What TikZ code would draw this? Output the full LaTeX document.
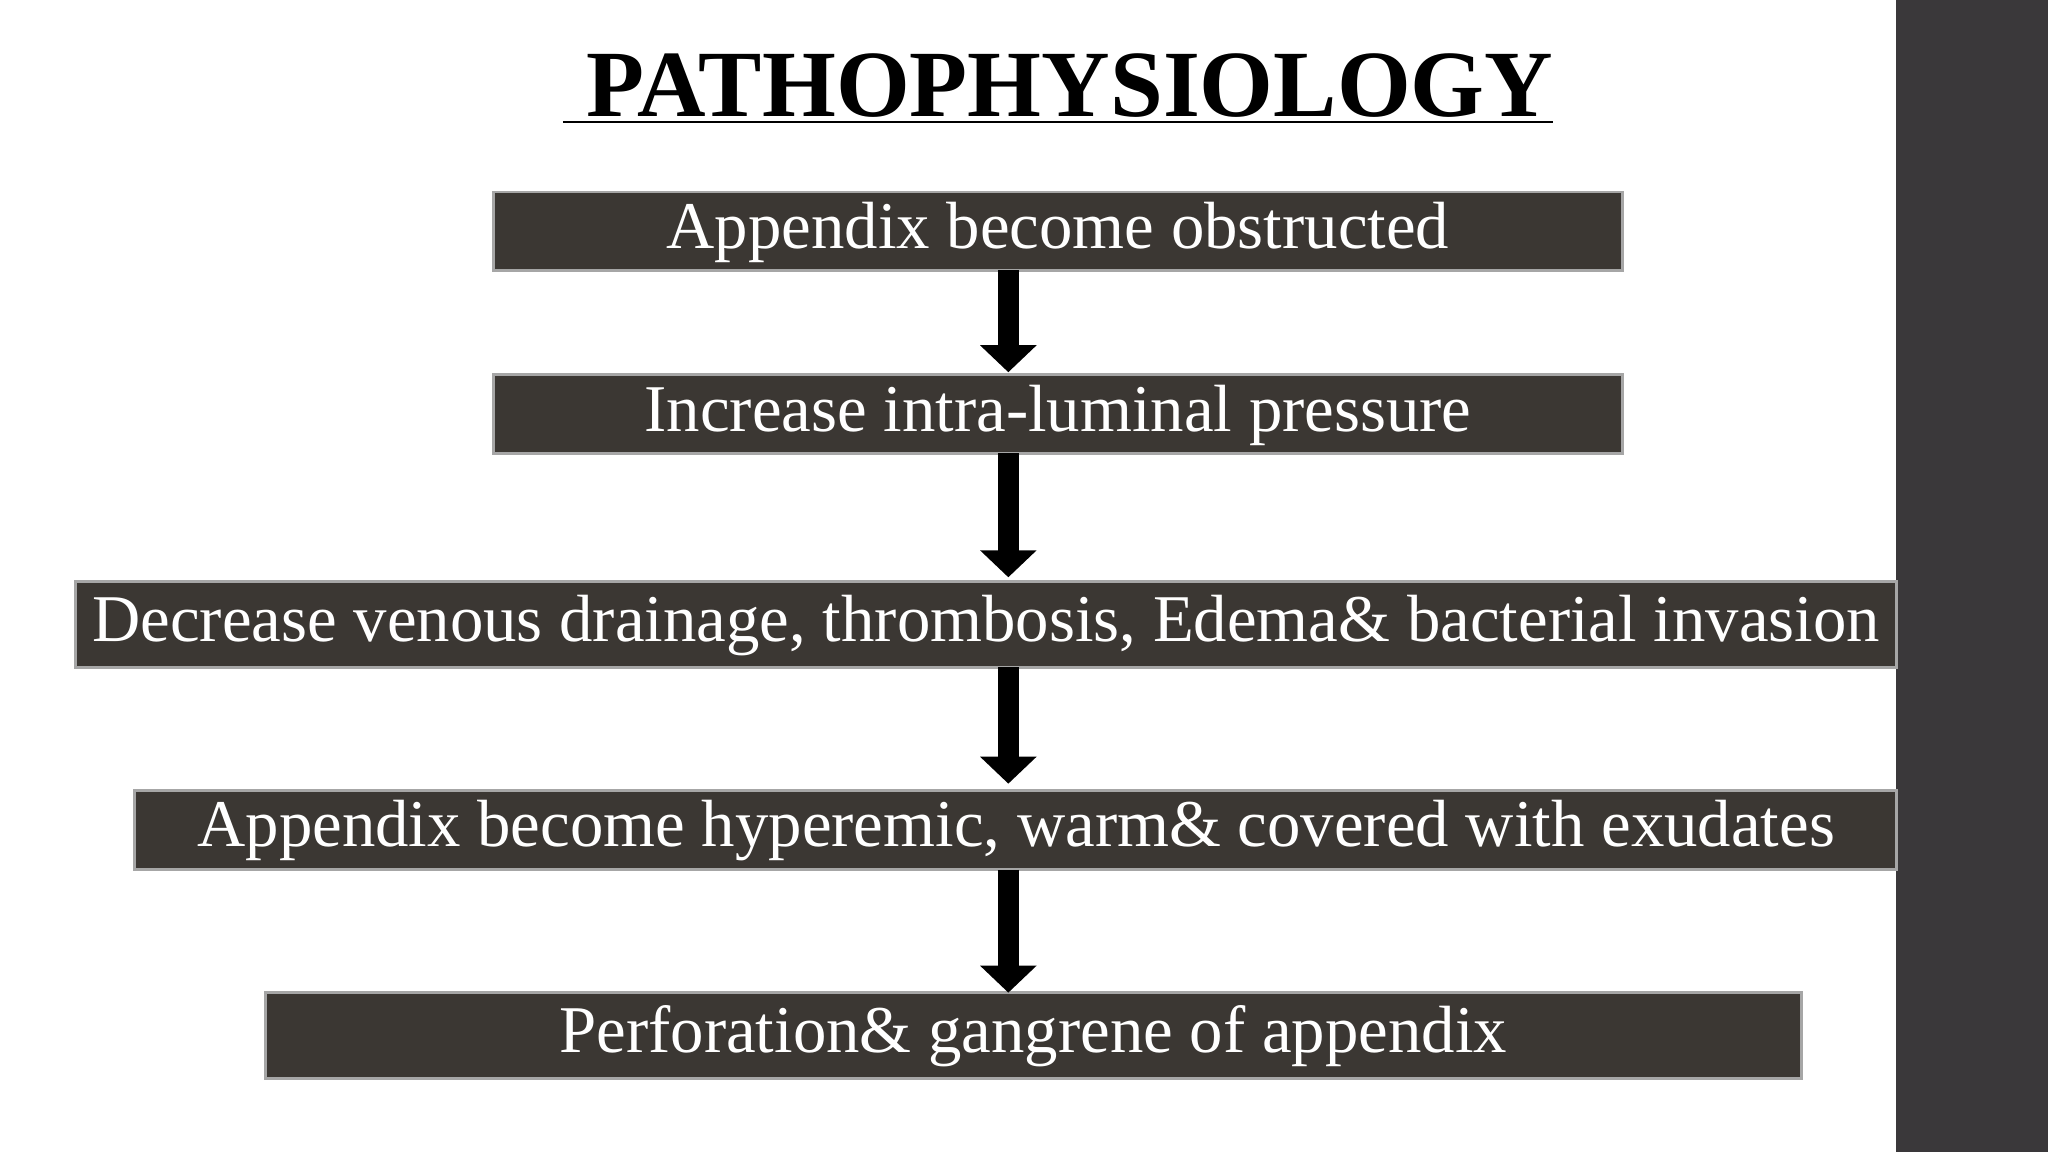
\documentclass[tikz,border=0pt]{standalone}
\usepackage{fontspec}
\setmainfont{Liberation Serif}
\usetikzlibrary{arrows.meta}
\begin{document}
\begin{tikzpicture}[x=0.013061cm,y=-0.013061cm,
  stepbox/.style={fill=boxc,draw=gray!70,line width=0.8pt,inner sep=0pt},
  steptext/.style={text=white,font=\fontsize{19}{22}\selectfont},
  flow/.style={line width=0.21cm,-{Triangle[width=0.55cm,length=0.27cm]}}]
\definecolor{boxc}{HTML}{3B3733}
\definecolor{barc}{HTML}{3A383A}
\useasboundingbox (0,0) rectangle (1568,882);
\fill[white] (0,0) rectangle (1568,882);
\fill[barc] (1452,0) rectangle (1568,882);
\node (title) at (810,68) {\fontsize{27}{30}\selectfont\bfseries\underline{ PATHOPHYSIOLOGY}};
\path[stepbox] (378,147) rectangle (1242,207);
\node[steptext] (b1) at (810,178) {Appendix become obstructed};
\path[stepbox] (378,287) rectangle (1242,347);
\node[steptext] (b2) at (810,318) {Increase intra-luminal pressure};
\path[stepbox] (58,445) rectangle (1452,511);
\node[steptext] (b3) at (755,479) {Decrease venous drainage, thrombosis, Edema\& bacterial invasion};
\path[stepbox] (103,605) rectangle (1452,666);
\node[steptext] (b4) at (778,636) {Appendix become hyperemic, warm\& covered with exudates};
\path[stepbox] (203,760) rectangle (1379,826);
\node[steptext] (b5) at (791,793) {Perforation\& gangrene of appendix};
\coordinate (a1s) at (772,207); \coordinate (a1e) at (772,285);
\coordinate (a2s) at (772,347); \coordinate (a2e) at (772,442);
\coordinate (a3s) at (772,511); \coordinate (a3e) at (772,600);
\coordinate (a4s) at (772,666); \coordinate (a4e) at (772,760);
\draw[flow] (a1s) -- (a1e);
\draw[flow] (a2s) -- (a2e);
\draw[flow] (a3s) -- (a3e);
\draw[flow] (a4s) -- (a4e);
\end{tikzpicture}
\end{document}
